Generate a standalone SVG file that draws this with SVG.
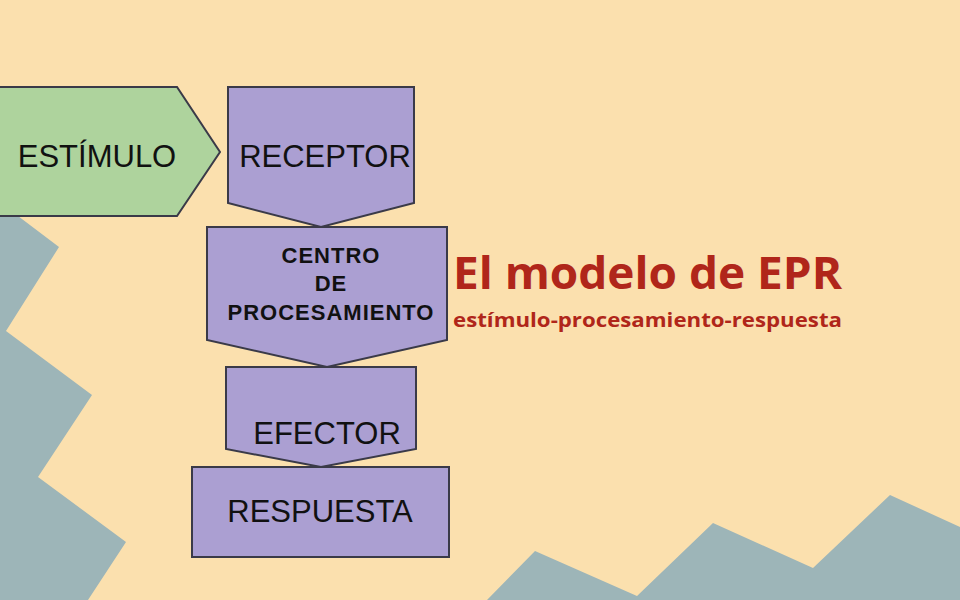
<svg xmlns="http://www.w3.org/2000/svg" width="960" height="600" viewBox="0 0 960 600">
<style>
.bg{fill:#FBE0AE}
.deco{fill:#9DB5B8}
.shape{stroke:#3a3a48;stroke-width:2;stroke-linejoin:miter}
.green{fill:#AED39D}
.purple{fill:#AB9FD2}
.lbl{font-family:"Liberation Sans",Arial,sans-serif;font-size:31px;fill:#111;text-anchor:middle}
.lblb{font-family:"Liberation Sans",Arial,sans-serif;font-size:22px;font-weight:bold;fill:#111;text-anchor:middle;letter-spacing:1px}
.title{font-family:"Open Sans","DejaVu Sans",sans-serif;font-weight:bold;fill:#B0261A}
</style>
<rect class="bg" x="0" y="0" width="960" height="600"/>
<polygon class="deco" points="0,214 18,216 59,247 6,331 92,395 38,477 126,542 88,600 0,600"/>
<polygon class="deco" points="487,600 535,551 637,596 713,523 813,568 890,495 960,527 960,600"/>
<g id="connectors"></g>
<g id="estimulo">
<polygon class="shape green" points="-2,87 177,87 220,152 177,216 -2,216"/>
<text class="lbl" x="97" y="167">ESTÍMULO</text>
</g>
<g id="receptor">
<polygon class="shape purple" points="228,87 414,87 414,203 321,227 228,203"/>
<text class="lbl" x="325" y="167">RECEPTOR</text>
</g>
<g id="centro">
<polygon class="shape purple" points="207,227 447,227 447,340 327,367 207,340"/>
<text class="lblb" x="331" y="263">CENTRO</text>
<text class="lblb" x="331" y="291">DE</text>
<text class="lblb" x="331" y="320">PROCESAMIENTO</text>
</g>
<g id="efector">
<polygon class="shape purple" points="226,367 416,367 416,449 321,467 226,449"/>
<text class="lbl" x="327" y="444">EFECTOR</text>
</g>
<g id="respuesta">
<rect class="shape purple" x="192" y="467" width="257" height="90"/>
<text class="lbl" x="320" y="522">RESPUESTA</text>
</g>
<g id="title">
<text class="title" x="453" y="289" font-size="45" textLength="389" lengthAdjust="spacingAndGlyphs">El modelo de EPR</text>
<text class="title" x="453" y="327" font-size="20" textLength="389" lengthAdjust="spacingAndGlyphs">estímulo-procesamiento-respuesta</text>
</g>
</svg>
